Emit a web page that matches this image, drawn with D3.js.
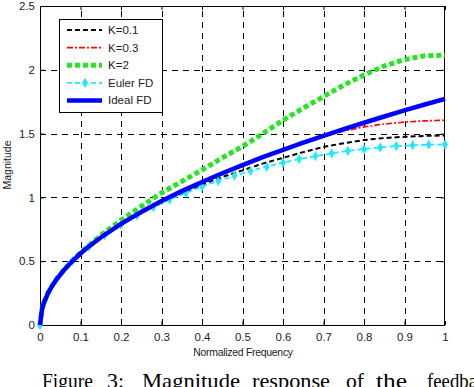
<!DOCTYPE html>
<html>
<head>
<meta charset="utf-8">
<script src="https://cdn.jsdelivr.net/npm/d3@7"></script>
<style>
  body { margin: 0; background: #fff; }
  svg { display: block; }
  .tick text { font-family: "Liberation Sans", Arial, sans-serif; font-size: 11.5px; fill: #222; }
</style>
</head>
<body>
<div id="chart"></div>
<script>
// frequency grid shared by K curves and ideal FD
var freq = [0, 0.005, 0.01, 0.02, 0.03, 0.04, 0.06, 0.08, 0.1, 0.12, 0.15, 0.2, 0.25, 0.3, 0.35,
            0.4, 0.45, 0.5, 0.55, 0.6, 0.65, 0.7, 0.75, 0.8, 0.85, 0.9, 0.95, 1.0];
var idealFD = [0, 0.125, 0.177, 0.251, 0.307, 0.354, 0.434, 0.501, 0.560, 0.614, 0.686, 0.793, 0.886, 0.971, 1.049,
               1.121, 1.189, 1.253, 1.315, 1.373, 1.429, 1.483, 1.535, 1.585, 1.634, 1.682, 1.728, 1.772];
var k01 = [0, 0.125, 0.177, 0.251, 0.307, 0.354, 0.434, 0.501, 0.560, 0.613, 0.684, 0.790, 0.880, 0.962, 1.032,
           1.100, 1.160, 1.212, 1.265, 1.310, 1.355, 1.395, 1.425, 1.450, 1.465, 1.475, 1.482, 1.485];
var k03 = [0, 0.125, 0.177, 0.251, 0.307, 0.354, 0.434, 0.501, 0.560, 0.614, 0.686, 0.793, 0.886, 0.971, 1.049,
           1.121, 1.189, 1.253, 1.315, 1.372, 1.426, 1.476, 1.520, 1.553, 1.575, 1.590, 1.600, 1.605];
var k2 = [0, 0.125, 0.177, 0.251, 0.307, 0.354, 0.436, 0.505, 0.566, 0.622, 0.702, 0.822, 0.930, 1.035, 1.125,
          1.215, 1.310, 1.400, 1.500, 1.605, 1.700, 1.790, 1.880, 1.960, 2.030, 2.080, 2.110, 2.115];
// Euler FD has its own (marker) frequencies
var eulerFreq = [0, 0.01, 0.02, 0.04, 0.08, 0.12, 0.16, 0.2, 0.24, 0.28, 0.32, 0.36, 0.4, 0.44, 0.48,
                 0.52, 0.56, 0.6, 0.64, 0.68, 0.72, 0.76, 0.8, 0.84, 0.88, 0.92, 0.96, 1.0];
var eulerFD = [0, 0.177, 0.251, 0.354, 0.501, 0.612, 0.705, 0.786, 0.858, 0.923, 0.982, 1.035, 1.084, 1.129, 1.170,
               1.207, 1.241, 1.272, 1.300, 1.324, 1.345, 1.364, 1.379, 1.392, 1.402, 1.409, 1.413, 1.414];

var xTicks = [0, 0.1, 0.2, 0.3, 0.4, 0.5, 0.6, 0.7, 0.8, 0.9, 1];
var yTicks = [0, 0.5, 1, 1.5, 2, 2.5];
var legendNames = ["K=0.1", "K=0.3", "K=2", "Euler FD", "Ideal FD"];

var W = 474, H = 387;
var pLeft = 40, pRight = 445, pTop = 6, pBottom = 325;

var svg = d3.select("#chart").append("svg").attr("width", W).attr("height", H);

var x = d3.scaleLinear().domain([0, 1]).range([pLeft, pRight]);
var y = d3.scaleLinear().domain([0, 2.5]).range([pBottom, pTop]);

// grid
var grid = svg.append("g").attr("stroke", "#000").attr("stroke-width", 1).attr("stroke-dasharray", "6,5");
grid.selectAll(".gx").data(xTicks.slice(1, -1)).enter().append("line")
    .attr("x1", function(d) { return Math.round(x(d)) + 0.5; })
    .attr("x2", function(d) { return Math.round(x(d)) + 0.5; })
    .attr("y1", pBottom).attr("y2", pTop);
grid.selectAll(".gy").data(yTicks.slice(1, -1)).enter().append("line")
    .attr("y1", function(d) { return Math.round(y(d)) + 0.5; })
    .attr("y2", function(d) { return Math.round(y(d)) + 0.5; })
    .attr("x1", pLeft).attr("x2", pRight);

// axes (ticks inward, matlab style)
var xAxis = svg.append("g").attr("transform", "translate(0," + pBottom + ")")
    .call(d3.axisBottom(x).tickValues(xTicks).tickSize(-4).tickPadding(8).tickFormat(d3.format("")));
var xAxisTop = svg.append("g").attr("transform", "translate(0," + pTop + ")")
    .call(d3.axisTop(x).tickValues(xTicks).tickSize(-4).tickFormat(""));
var yAxis = svg.append("g").attr("transform", "translate(" + pLeft + ",0)")
    .call(d3.axisLeft(y).tickValues(yTicks).tickSize(-4).tickPadding(5).tickFormat(d3.format("")));
var yAxisRight = svg.append("g").attr("transform", "translate(" + pRight + ",0)")
    .call(d3.axisRight(y).tickValues(yTicks).tickSize(-4).tickFormat(""));
[xAxis, xAxisTop, yAxis, yAxisRight].forEach(function(a) {
  a.select(".domain").remove();
  a.selectAll(".tick line").attr("stroke", "#000");
});

// frame
svg.append("rect").attr("x", pLeft + 0.5).attr("y", pTop + 0.5)
   .attr("width", pRight - pLeft - 1).attr("height", pBottom - pTop)
   .attr("fill", "none").attr("stroke", "#000").attr("stroke-width", 1);

var line = function(xs) {
  return d3.line().x(function(d, i) { return x(xs[i]); }).y(function(d) { return y(d); });
};

var series = [
  { vals: k01, xs: freq, color: "#000000", width: 2, dash: "5,3" },
  { vals: k03, xs: freq, color: "#ff0000", width: 1.6, dash: "6,2,2,2" },
  { vals: k2, xs: freq, color: "#22e622", width: 5, dash: "5,3" },
  { vals: eulerFD, xs: eulerFreq, color: "#22e8ff", width: 1.8, dash: "5,3", marker: true },
  { vals: idealFD, xs: freq, color: "#0000ff", width: 4.5, dash: null }
];

var plot = svg.append("g");
series.forEach(function(s) {
  plot.append("path").datum(s.vals)
    .attr("d", line(s.xs))
    .attr("fill", "none")
    .attr("stroke", s.color)
    .attr("stroke-width", s.width)
    .attr("stroke-dasharray", s.dash);
  if (s.marker) {
    plot.selectAll(null).data(s.vals).enter().append("path")
      .attr("d", d3.symbol().type(d3.symbolDiamond).size(30))
      .attr("transform", function(d, i) { return "translate(" + x(s.xs[i]) + "," + y(d) + ")"; })
      .attr("fill", s.color);
  }
});

// legend
var lg = svg.append("g");
lg.append("rect").attr("x", 59.5).attr("y", 19.5).attr("width", 103).attr("height", 93)
  .attr("fill", "#fff").attr("stroke", "#000");
series.forEach(function(s, i) {
  var ly = 30 + i * 17.6;
  lg.append("line").attr("x1", 67).attr("x2", 102).attr("y1", ly).attr("y2", ly)
    .attr("stroke", s.color).attr("stroke-width", s.width).attr("stroke-dasharray", s.dash);
  if (s.marker) {
    lg.append("path").attr("d", d3.symbol().type(d3.symbolDiamond).size(30))
      .attr("transform", "translate(85," + ly + ")").attr("fill", s.color);
  }
  lg.append("text").attr("x", 108).attr("y", ly + 4)
    .attr("font-family", "Liberation Sans, Arial, sans-serif").attr("font-size", 11.5)
    .attr("fill", "#222").text(legendNames[i]);
});

// axis labels
svg.append("text").attr("x", 243).attr("y", 356).attr("text-anchor", "middle")
   .attr("font-family", "Liberation Sans, Arial, sans-serif").attr("font-size", 10.5)
   .attr("fill", "#222").attr("letter-spacing", -0.3).text("Normalized Frequency");
svg.append("text").attr("transform", "translate(11,165) rotate(-90)").attr("text-anchor", "middle")
   .attr("font-family", "Liberation Sans, Arial, sans-serif").attr("font-size", 10.5)
   .attr("fill", "#222").text("Magnitude");

// caption (justified words, cut at the right edge)
var capWords = ["Figure", "3:", "Magnitude", "response", "of", "the", "feedba"];
var capX = [42, 107, 142, 252, 346, 376, 427];
var capLen = [51, 17, 98, 78, 18, 31, 50];
var cap = svg.append("g")
   .attr("font-family", "Liberation Serif, Times New Roman, serif").attr("font-size", 21).attr("fill", "#000");
cap.selectAll("text").data(capWords).enter().append("text")
   .attr("x", function(d, i) { return capX[i]; }).attr("y", 388)
   .attr("textLength", function(d, i) { return capLen[i]; })
   .attr("lengthAdjust", "spacingAndGlyphs")
   .text(function(d) { return d; });
</script>
</body>
</html>
